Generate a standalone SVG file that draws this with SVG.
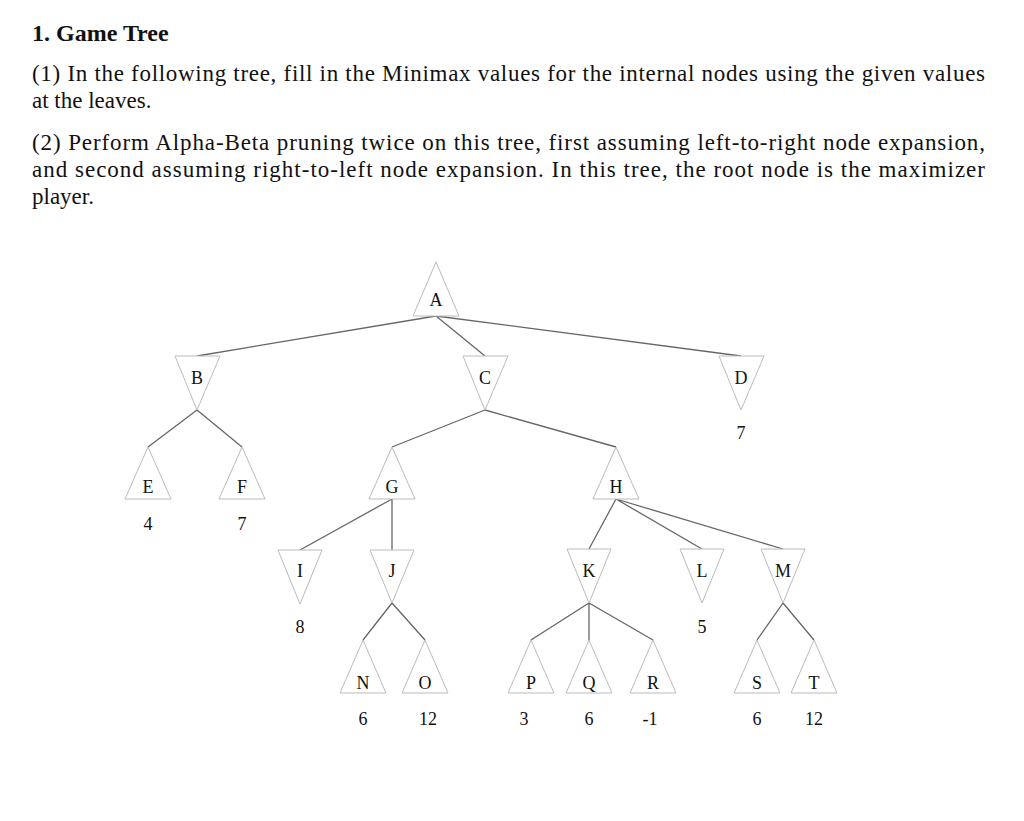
<svg xmlns="http://www.w3.org/2000/svg" width="1024" height="821" viewBox="0 0 1024 821">
<style>
.t{font-family:"Liberation Serif","Times New Roman",serif;fill:#111}
.h{font-size:24px;font-weight:bold}
.p{font-size:23px}
.n{font-size:18px;text-anchor:middle}
.v{font-size:18px;text-anchor:middle}
.tri{fill:#fff;stroke:#bbb;stroke-width:1}
.e{stroke:#666;stroke-width:1.3;fill:none}
</style>
<rect width="1024" height="821" fill="#fff"/>
<text class="t h" x="32" y="41">1. Game Tree</text>
<text class="t p" x="32" y="81" textLength="953" lengthAdjust="spacing">(1) In the following tree, fill in the Minimax values for the internal nodes using the given values</text>
<text class="t p" x="32" y="108">at the leaves.</text>
<text class="t p" x="32" y="150" textLength="953" lengthAdjust="spacing">(2) Perform Alpha-Beta pruning twice on this tree, first assuming left-to-right node expansion,</text>
<text class="t p" x="32" y="177" textLength="953" lengthAdjust="spacing">and second assuming right-to-left node expansion. In this tree, the root node is the maximizer</text>
<text class="t p" x="32" y="204">player.</text>
<g id="connectors">
<path class="e" d="M436 316L197 356M436 316L485 356M436 316L741 356"/>
<path class="e" d="M197 410L148 447M197 410L242 447"/>
<path class="e" d="M485 410L392 447M485 410L616 447"/>
<path class="e" d="M392 499L300 550M392 499L392 550"/>
<path class="e" d="M616 499L589 549M616 499L702 549M616 499L783 549"/>
<path class="e" d="M392 603L363 640M392 603L425 640"/>
<path class="e" d="M589 603L531 640M589 603L589 640M589 603L653 640"/>
<path class="e" d="M783 603L757 640M783 603L814 640"/>
</g>
<g id="A"><polygon class="tri" points="436,262 459,316 413,316"/><text class="t n" x="436" y="306">A</text></g>
<g id="B"><polygon class="tri" points="175,356 220,356 197,410"/><text class="t n" x="197" y="384">B</text></g>
<g id="C"><polygon class="tri" points="463,356 508,356 485,410"/><text class="t n" x="485" y="384">C</text></g>
<g id="D"><polygon class="tri" points="719,356 764,356 741,410"/><text class="t n" x="741" y="384">D</text><text class="t v" x="741" y="439">7</text></g>
<g id="E"><polygon class="tri" points="148,447 171,499 125,499"/><text class="t n" x="148" y="493">E</text><text class="t v" x="148" y="530">4</text></g>
<g id="F"><polygon class="tri" points="242,447 265,499 219,499"/><text class="t n" x="242" y="493">F</text><text class="t v" x="242" y="530">7</text></g>
<g id="G"><polygon class="tri" points="392,447 415,499 369,499"/><text class="t n" x="392" y="493">G</text></g>
<g id="H"><polygon class="tri" points="616,447 639,499 593,499"/><text class="t n" x="616" y="493">H</text></g>
<g id="I"><polygon class="tri" points="278,550 322,550 300,604"/><text class="t n" x="300" y="577">I</text><text class="t v" x="300" y="633">8</text></g>
<g id="J"><polygon class="tri" points="370,550 414,550 392,603"/><text class="t n" x="392" y="577">J</text></g>
<g id="K"><polygon class="tri" points="567,549 611,549 589,603"/><text class="t n" x="589" y="577">K</text></g>
<g id="L"><polygon class="tri" points="680,549 724,549 702,603"/><text class="t n" x="702" y="577">L</text><text class="t v" x="702" y="633">5</text></g>
<g id="M"><polygon class="tri" points="761,549 805,549 783,603"/><text class="t n" x="783" y="577">M</text></g>
<g id="N"><polygon class="tri" points="363,640 386,693 340,693"/><text class="t n" x="363" y="689">N</text><text class="t v" x="363" y="725">6</text></g>
<g id="O"><polygon class="tri" points="425,640 448,693 402,693"/><text class="t n" x="425" y="689">O</text><text class="t v" x="428" y="725">12</text></g>
<g id="P"><polygon class="tri" points="531,640 554,693 508,693"/><text class="t n" x="531" y="689">P</text><text class="t v" x="524" y="725">3</text></g>
<g id="Q"><polygon class="tri" points="589,640 612,693 566,693"/><text class="t n" x="589" y="689">Q</text><text class="t v" x="589" y="725">6</text></g>
<g id="R"><polygon class="tri" points="653,640 676,693 630,693"/><text class="t n" x="653" y="689">R</text><text class="t v" x="650" y="725">-1</text></g>
<g id="S"><polygon class="tri" points="757,640 780,693 734,693"/><text class="t n" x="757" y="689">S</text><text class="t v" x="757" y="725">6</text></g>
<g id="T"><polygon class="tri" points="814,640 837,693 791,693"/><text class="t n" x="814" y="689">T</text><text class="t v" x="814" y="725">12</text></g>
</svg>
